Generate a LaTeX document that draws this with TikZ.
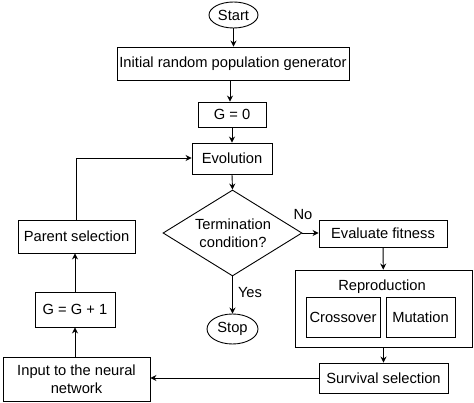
\documentclass[tikz,border=0pt]{standalone}
\usepackage{fontspec}
\setmainfont{Liberation Sans}
\usetikzlibrary{arrows.meta,shapes.geometric}
\begin{document}
\begin{tikzpicture}[x=1pt,y=-1pt,
  font=\fontsize{14.7}{16}\selectfont,
  line width=0.9pt,
  box/.style={draw,rectangle,inner sep=0pt,align=center},
  oval/.style={draw,ellipse,inner sep=0pt},
  arr/.style={-{Stealth[length=6pt,width=6pt,inset=2pt]}}]
\useasboundingbox (0,0) rectangle (474,403);
\node[oval,minimum width=49pt,minimum height=26pt] (start) at (233.5,15) {Start};
\node[box,minimum width=232pt,minimum height=33pt] (init) at (233,63.5) {Initial random population generator};
\node[box,minimum width=68pt,minimum height=25pt] (g0) at (232,114.5) {G = 0};
\node[box,minimum width=80pt,minimum height=31pt] (evo) at (232,158.5) {Evolution};
\node[draw,diamond,aspect=1.62,inner sep=0pt,minimum width=139pt,minimum height=86pt,align=center] (term) at (232.5,233) {};
\node[align=center,font=\fontsize{14.7}{17.5}\selectfont] (termtxt) at (233,233) {Termination\\condition?};
\node[oval,minimum width=51pt,minimum height=30pt] (stop) at (232.5,329) {Stop};
\node (yes) at (250,293) {Yes};
\node (no) at (303,215) {No};
\node[box,minimum width=128pt,minimum height=27pt] (eval) at (383,233.5) {Evaluate fitness};
\node[box,minimum width=177pt,minimum height=77pt] (repro) at (383.5,308.5) {};
\node (reprotxt) at (382,287) {Reproduction};
\node[box,minimum width=74pt,minimum height=40pt] (cross) at (343,317) {Crossover};
\node[box,minimum width=69pt,minimum height=40pt] (mut) at (420.5,317) {Mutation};
\node[box,minimum width=129pt,minimum height=30pt] (surv) at (383.5,378) {Survival selection};
\node[box,minimum width=147pt,minimum height=44pt,font=\fontsize{14.7}{17.5}\selectfont] (input) at (76.5,379) {Input to the neural\\network};
\node[box,minimum width=80pt,minimum height=35pt] (ginc) at (75,309.5) {G = G + 1};
\node[box,minimum width=117pt,minimum height=33pt] (parent) at (76.5,236.5) {Parent selection};
\coordinate (corner) at (76,158);
\draw[arr] (start) -- (init.north -| start);
\draw[arr] (init.south -| 230,0) -- (g0.north -| 230,0);
\draw[arr] (g0) -- (evo);
\draw[arr] (evo.south) -- (term.north);
\draw[arr] (term.east) -- (eval.west |- term.east);
\draw[arr] (term.south) -- (stop.north);
\draw[arr] (eval) -- (repro);
\draw[arr] (repro) -- (surv);
\draw[arr] (surv.west) -- (input.east |- surv.west);
\draw[arr] (input.north -| ginc) -- (ginc.south);
\draw[arr] (ginc.north) -- (parent.south -| ginc);
\draw[arr] (parent.north -| corner) -- (corner) -- (evo.west |- corner);
\end{tikzpicture}
\end{document}
